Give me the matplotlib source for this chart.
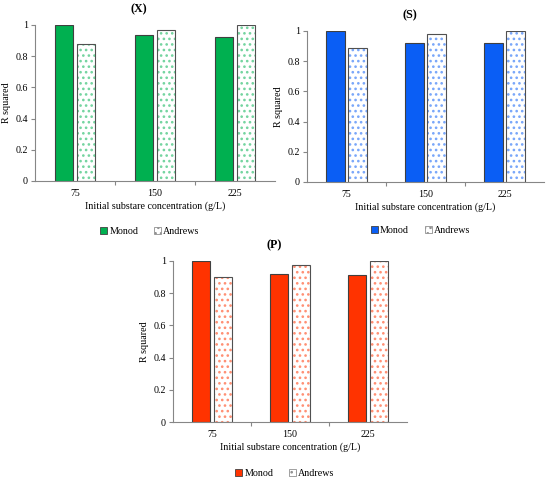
import matplotlib
matplotlib.use('Agg')
import matplotlib.pyplot as plt
from matplotlib.colors import to_rgb
from matplotlib.patches import Patch
import numpy as np

plt.rcParams['font.family'] = ['Liberation Serif', 'DejaVu Serif']
plt.rcParams['font.size'] = 7.2
plt.rcParams['hatch.linewidth'] = 1.1

# data
concentrations = ['75', '150', '225']
x_monod = [1.0, 0.935, 0.923]
x_andrews = [0.876, 0.970, 0.998]
s_monod = [1.0, 0.922, 0.922]
s_andrews = [0.889, 0.980, 1.0]
p_monod = [1.0, 0.917, 0.915]
p_andrews = [0.899, 0.975, 1.0]

panels = [
    ('(X)', x_monod, x_andrews, '#00B050', [35, 25, 275, 181]),
    ('(S)', s_monod, s_andrews, '#0A5EF5', [307, 31, 544, 182]),
    ('(P)', p_monod, p_andrews, '#FF3300', [173, 261, 407, 422]),
]


def lighten(c, amt):
    r, g, b = to_rgb(c)
    return (r + (1 - r) * amt, g + (1 - g) * amt, b + (1 - b) * amt)


W, H = 550, 478
fig = plt.figure(figsize=(W / 100, H / 100), dpi=100)

for title, monod, andrews, color, (l, t, r, b) in panels:
    ax = fig.add_axes([l / W, 1 - b / H, (r - l) / W, (b - t) / H])
    x = np.arange(len(concentrations))
    bw = 0.23
    ax.bar(x - 0.14, monod, bw, color=color, edgecolor='#404040', linewidth=0.8)
    # hatched bar: pattern first, then the outline on top
    ax.bar(x + 0.14, andrews, bw, color='white', edgecolor=lighten(color, 0.45),
           hatch='...', linewidth=0)
    ax.bar(x + 0.14, andrews, bw, fill=False, edgecolor='#505050', linewidth=0.8)

    ax.set_xlim(-0.5, 2.5)
    ax.set_ylim(0, 1)
    ax.set_yticks([0, 0.2, 0.4, 0.6, 0.8, 1.0])
    ax.set_yticklabels(['0', '0.2', '0.4', '0.6', '0.8', '1'])
    ax.set_xticks([0.5, 1.5])
    ax.set_xticklabels([])
    ax.set_xticks(x, minor=True)
    ax.set_xticklabels(concentrations, minor=True)
    ax.tick_params(axis='x', which='major', length=3, color='#868686', width=0.8)
    ax.tick_params(axis='x', which='minor', length=0, pad=6)
    ax.tick_params(axis='y', length=3, color='#868686', width=0.8, pad=2)
    for side in ['top', 'right']:
        ax.spines[side].set_visible(False)
    for side in ['left', 'bottom']:
        ax.spines[side].set_color('#868686')
        ax.spines[side].set_linewidth(0.8)

    ax.set_ylabel('R squared', labelpad=3)
    ax.set_xlabel('Initial substare concentration (g/L)', labelpad=2)
    ax.set_title(title, fontweight='bold', pad=9, x=0.5 - 16 / (r - l))

    handles = [Patch(facecolor=color, edgecolor='#404040', linewidth=0.6),
               Patch(facecolor='white', edgecolor='#909090', hatch='...',
                     linewidth=0.6)]
    ax.legend(handles, ['Monod', 'Andrews'], loc='upper center',
              bbox_to_anchor=(0.5 - 5 / (r - l), -0.235), ncol=2, frameon=False,
              handlelength=0.7, handleheight=0.7, handletextpad=0.2,
              columnspacing=1.6)

fig.savefig('out.png', dpi=100)
